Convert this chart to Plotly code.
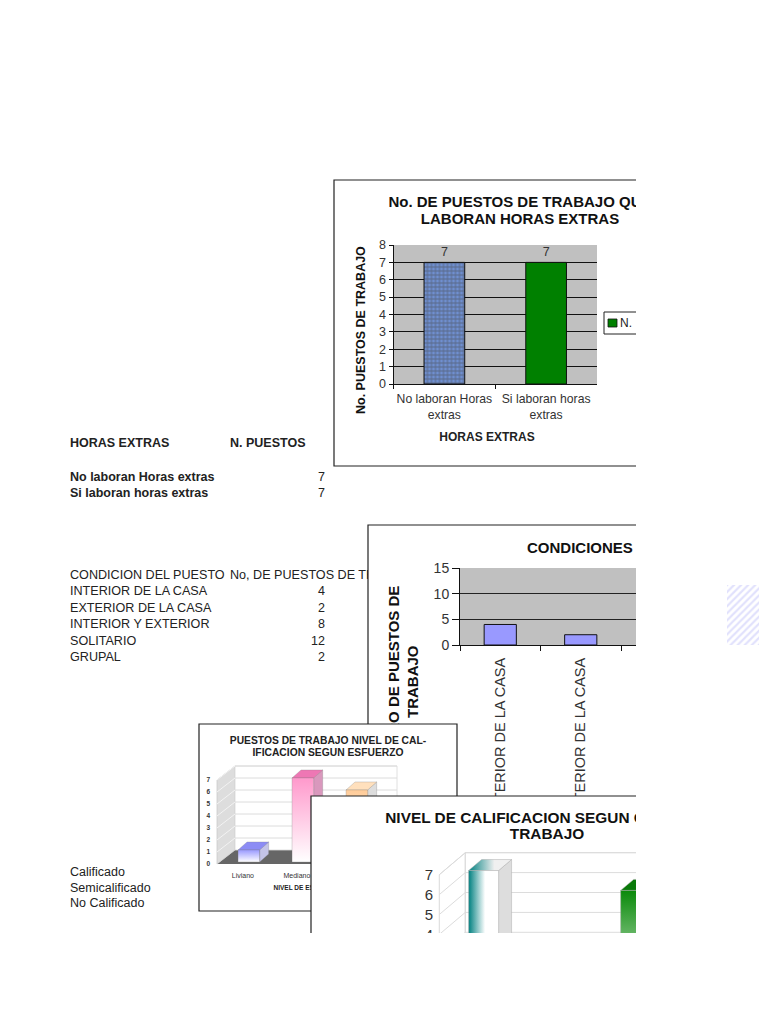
import plotly.graph_objects as go

# The browser page keeps an 8 px body margin, so the figure is 752x1008 and placed at (8, 8).
FW, FH, OFF = 752, 1008, 8
FONT = "Liberation Sans"
TEXT_DY = 1.3

# ---------- data ----------
extras_cats = ["No laboran Horas<br>extras", "Si laboran horas<br>extras"]
extras_vals = [7, 7]
extras_rows = ["No laboran Horas extras", "Si laboran horas extras"]

cond_cats = ["INTERIOR DE LA CASA", "EXTERIOR DE LA CASA", "INTERIOR Y EXTERIOR", "SOLITARIO", "GRUPAL"]
cond_vals = [4, 2, 8, 12, 2]

esfuerzo_cats = ["Liviano", "Mediano", "Pesado"]
esfuerzo_vals = [1, 7, 6]

calif_cats = ["Calificado", "Semicalificado", "No Calificado"]
calif_vals = [7, 6, 1]

fig = go.Figure()
layout = {}
slot = [0]


def px(a):
    return (a - OFF) / FW


def py(b):
    return 1 - (b - OFF) / FH


def new_axes(x0, y0, x1, y1, xr, yr, xopts=None, yopts=None):
    """Add one subplot occupying a page rectangle; later subplots paint over earlier."""
    slot[0] += 1
    n = slot[0]
    sx = "" if n == 1 else str(n)
    base = dict(visible=False, fixedrange=True, showgrid=False, zeroline=False)
    xa = dict(base, domain=[px(x0), px(x1)], range=xr, anchor="y" + sx)
    ya = dict(base, domain=[py(y1), py(y0)], range=yr, anchor="x" + sx)
    xa.update(xopts or {})
    ya.update(yopts or {})
    layout["xaxis" + sx] = xa
    layout["yaxis" + sx] = ya
    return "x" + sx, "y" + sx


def page_axes(x0, y0, x1, y1):
    return new_axes(x0, y0, x1, y1, [x0, x1], [y1, y0])


def label(ax, xs, ys, texts, size, color="#222222", pos="middle right", bold=False):
    fig.add_trace(go.Scatter(
        x=xs, y=[v + TEXT_DY for v in ys], text=texts, xaxis=ax[0], yaxis=ax[1], mode="text", textposition=pos,
        textfont=dict(family=FONT, size=size, color=color, weight="bold" if bold else "normal"),
        hoverinfo="skip", showlegend=False))


def panel(ax, x0, y0, x1, y1, color="#222222", width=1.2):
    layout.setdefault("shapes", []).append(dict(
        type="rect", xref=ax[0], yref=ax[1], x0=x0, y0=y0, x1=x1, y1=y1, layer="below",
        fillcolor="white", line=dict(color=color, width=width)))


def poly(ax, xs, ys, fill=None, grad=None, line="rgba(0,0,0,0)", lw=0.8):
    kw = dict(fillgradient=grad) if grad else dict(fillcolor=fill)
    fig.add_trace(go.Scatter(
        x=list(xs) + [xs[0]], y=list(ys) + [ys[0]], xaxis=ax[0], yaxis=ax[1], mode="lines",
        fill="toself", line=dict(color=line, width=lw), hoverinfo="skip", showlegend=False, **kw))


def lines(ax, xs, ys, color, lw=1):
    fig.add_trace(go.Scatter(
        x=xs, y=ys, xaxis=ax[0], yaxis=ax[1], mode="lines", line=dict(color=color, width=lw),
        hoverinfo="skip", showlegend=False))


def vgrad(bottom, top):
    return dict(type="vertical", colorscale=[[0, bottom], [1, top]])


def hgrad(*stops):
    return dict(type="horizontal", colorscale=[list(s) for s in stops])


def solid_or_grad(ax, xs, ys, style, line):
    if isinstance(style, dict):
        poly(ax, xs, ys, grad=style, line=line)
    else:
        poly(ax, xs, ys, fill=style, line=line)


def bar3d(ax, u, w, base, v, dx, dy, front, topf, side, line="rgba(120,120,120,0.35)"):
    solid_or_grad(ax, [u + w, u + w + dx, u + w + dx, u + w], [base, base + dy, base + v + dy, base + v], side, line)
    solid_or_grad(ax, [u, u + w, u + w + dx, u + dx], [base + v, base + v, base + v + dy, base + v + dy], topf, line)
    solid_or_grad(ax, [u, u + w, u + w, u], [base, base, base + v, base + v], front, line)


# ---------- worksheet text (below every chart) ----------
sheet = page_axes(OFF, OFF, OFF + FW, OFF + FH)
label(sheet, [70, 230], [443, 443], ["HORAS EXTRAS", "N. PUESTOS"], 12.5, bold=True)
label(sheet, [70, 70], [477, 493], extras_rows, 12.5, bold=True)
label(sheet, [325, 325], [477, 493], [str(v) for v in extras_vals], 12.5, pos="middle left")
label(sheet, [70, 230], [575, 575], ["CONDICION DEL PUESTO", "No, DE PUESTOS DE TRABAJO"], 12.6)
cond_y = [591, 608, 624, 641, 657]
label(sheet, [70] * 5, cond_y, cond_cats, 12.6)
label(sheet, [325] * 5, cond_y, [str(v) for v in cond_vals], 12.5, pos="middle left")
label(sheet, [70] * 3, [872, 888, 903], calif_cats, 12.5)

# ---------- chart 1 ----------
p1 = page_axes(332, 178, 636, 468)
panel(p1, 334, 180, 700, 466)
label(p1, [520, 520], [202, 219], ["No. DE PUESTOS DE TRABAJO QUE", "LABORAN HORAS EXTRAS"], 15, "#111111", "middle center", True)
label(p1, [487], [437], ["HORAS EXTRAS"], 12, "#222222", "middle center", True)
label(p1, [620], [323], ["N."], 12, "#222222")
layout["shapes"].append(dict(type="rect", xref=p1[0], yref=p1[1], x0=604, y0=312, x1=700, y1=334,
                             layer="below", fillcolor="white", line=dict(color="#222222", width=1)))
layout["shapes"].append(dict(type="rect", xref=p1[0], yref=p1[1], x0=608, y0=319, x1=617, y1=327,
                             layer="below", fillcolor="#008000", line=dict(color="#111111", width=0.8)))

c1 = new_axes(393.5, 245, 597, 384, [-0.5, 1.5], [0, 8],
              dict(visible=True, type="category", tickson="boundaries", ticks="outside", ticklen=4,
                   ticklabelstandoff=3, tickangle=0, tickcolor="#111111", showline=True, linecolor="#111111",
                   linewidth=1, tickfont=dict(family=FONT, size=12.2, color="#333333")),
              dict(visible=True, dtick=1, tick0=0, ticks="outside", ticklen=4, tickcolor="#111111",
                   showline=True, linecolor="#111111", linewidth=1, showgrid=True, gridcolor="#111111",
                   gridwidth=1, tickfont=dict(family=FONT, size=12.5, color="#333333")))
layout["shapes"].append(dict(type="rect", xref=c1[0], yref=c1[1], x0=-0.5, y0=0, x1=1.5, y1=8, layer="below",
                             fillcolor="#c0c0c0", line=dict(width=0)))
fig.add_trace(go.Bar(
    x=extras_cats, y=extras_vals, xaxis=c1[0], yaxis=c1[1], width=0.4, text=[str(v) for v in extras_vals],
    textposition="outside", cliponaxis=False, textfont=dict(family=FONT, size=12.5, color="#333333"),
    marker=dict(color=["#6f8fd0", "#008000"], line=dict(color="#111111", width=1),
                pattern=dict(shape=["+", ""], size=4, solidity=0.45, fgcolor="#20408f", bgcolor="#86a6e4")),
    hoverinfo="skip", showlegend=False))

# ---------- chart 2 ----------
p2 = new_axes(366, 523, 636, 800, [366, 636], [800, 523], None,
              dict(visible=True, anchor="free", position=px(421), tickvals=[684],
                   ticktext=["NUMERO DE PUESTOS DE<br>TRABAJO"], tickangle=-90, ticks="", showline=False,
                   tickfont=dict(family=FONT, size=15, color="#111111", weight="bold")))
panel(p2, 368, 525, 700, 900)
label(p2, [527], [548], ["CONDICIONES DEL PUESTO"], 15, "#111111", "middle right", True)
c2 = new_axes(460, 568, 636, 645, [-0.5, (636 - 460) / 80.5 - 0.5], [0, 15],
              dict(visible=True, type="category", categoryorder="array", categoryarray=cond_cats,
                   tickson="boundaries", ticks="outside", ticklen=5, ticklabelstandoff=6, tickcolor="#111111",
                   showline=True, linecolor="#111111", tickangle=-90,
                   tickfont=dict(family=FONT, size=14.5, color="#333333")),
              dict(visible=True, dtick=5, tick0=0, ticks="outside", ticklen=7, tickcolor="#111111",
                   showline=True, linecolor="#111111", showgrid=True, gridcolor="#222222", gridwidth=1,
                   tickfont=dict(family=FONT, size=14, color="#333333")))
layout["shapes"].append(dict(type="rect", xref=c2[0], yref=c2[1], x0=-0.5, y0=0, x1=4.5, y1=15, layer="below",
                             fillcolor="#c0c0c0", line=dict(width=0)))
fig.add_trace(go.Bar(x=cond_cats, y=cond_vals, xaxis=c2[0], yaxis=c2[1], width=0.4,
                     marker=dict(color="#9999ff", line=dict(color="#111111", width=1)),
                     hoverinfo="skip", showlegend=False))

# ---------- chart 3 (3-D look) ----------
p3 = page_axes(197, 722, 459, 913)
panel(p3, 199, 724, 457, 911)
label(p3, [328, 328], [740, 752], ["PUESTOS DE TRABAJO NIVEL DE CAL-", "IFICACION SEGUN ESFUERZO"], 10.3, "#222222", "middle center", True)
label(p3, [307], [887], ["NIVEL DE ESFUERZO"], 6.5, "#222222", "middle center", True)

UX3, UY3 = 54.0, 12.0
OX3, OY3 = 217.0, 864.0
c3 = new_axes(197, 722, 459, 913,
              [(197 - OX3) / UX3, (459 - OX3) / UX3], [(OY3 - 913) / UY3, (OY3 - 722) / UY3],
              dict(visible=True, anchor="free", position=py(870), tickvals=[0.48, 1.48, 2.48],
                   ticktext=esfuerzo_cats, ticks="", showline=False,
                   tickfont=dict(family=FONT, size=7, color="#333333")),
              dict(visible=True, anchor="free", position=px(210), tickvals=list(range(8)), ticks="",
                   showline=False, tickfont=dict(family=FONT, size=6.5, color="#333333", weight="bold")))
dx3, dy3 = 18 / UX3, 14 / UY3
n3 = len(esfuerzo_cats)
poly(c3, [0, dx3, dx3 + n3, n3], [0, dy3, dy3, 0], "#666666")
poly(c3, [0, dx3, dx3, 0], [0, dy3, 7 + dy3, 7], "#dddddd", line="#cccccc")
poly(c3, [dx3, dx3 + n3, dx3 + n3, dx3], [dy3, dy3, 7 + dy3, 7 + dy3], "white", line="#d8d8d8")
for v in range(1, 8):
    lines(c3, [0, dx3], [v, v + dy3], "#f3f3f3")
    lines(c3, [dx3, dx3 + n3], [v + dy3, v + dy3], "#dcdcdc")
styles3 = [
    (vgrad("#ffffff", "#9a9aff"), "#8c8cf5", "#c4c4e8"),
    (vgrad("#ffffff", "#ff99cc"), "#ee77b4", "#d998bd"),
    (vgrad("#ffffff", "#ffcc99"), "#ffe0bd", "#dddddd"),
]
for i, v in enumerate(esfuerzo_vals):
    f, t, s = styles3[i]
    bar3d(c3, i + 0.39, 0.4, 0.17, v, 9 / UX3, 8 / UY3, f, t, s)

# ---------- chart 4 (3-D look, runs off the page) ----------
p4 = page_axes(309, 794, 636, 1016)
panel(p4, 311, 796, 700, 1100)
label(p4, [551, 547], [818, 834], ["NIVEL DE CALIFICACION SEGUN CARGO DE", "TRABAJO"], 15.4, "#111111", "middle center", True)

UX4, UY4 = 152.0, 19.9
OX4, OY4 = 439.3, 1014.0
c4 = new_axes(309, 794, 636, 1016,
              [(309 - OX4) / UX4, (636 - OX4) / UX4], [(OY4 - 1016) / UY4, (OY4 - 794) / UY4], None,
              dict(visible=True, anchor="free", position=px(433), tickvals=[4, 5, 6, 7], ticks="",
                   showline=False, tickfont=dict(family=FONT, size=15, color="#333333")))
dx4, dy4 = 26 / UX4, 22 / UY4
n4 = len(calif_cats)
poly(c4, [0, dx4, dx4, 0], [0, dy4, 7 + dy4, 7], "white", line="#d0d0d0")
poly(c4, [dx4, dx4 + n4, dx4 + n4, dx4], [dy4, dy4, 7 + dy4, 7 + dy4], "white", line="#d0d0d0")
for v in range(1, 8):
    lines(c4, [0, dx4, dx4 + n4], [v, v + dy4, v + dy4], "#dcdcdc")
styles4 = [
    (hgrad((0, "#008080"), (0.55, "#ffffff"), (1, "#ffffff")),
     hgrad((0, "#008080"), (0.6, "#f0f0f0"), (1, "#f0f0f0")), "#dddddd"),
    (vgrad("#ffffff", "#0a8a0a"), "#0a7a0a", "#0a6a0a"),
    (vgrad("#ffffff", "#cc3333"), "#bb2222", "#aa2222"),
]
for i, v in enumerate(calif_vals):
    f, t, s = styles4[i]
    bar3d(c4, i + 0.193, 0.197, 0.21, v, 13 / UX4, 11 / UY4, f, t, s, line="rgba(170,170,170,0.6)")

# ---------- page-edge decoration ----------
hatch = new_axes(727, 585, 759, 645, [-0.5, 0.5], [0, 1])
fig.add_trace(go.Bar(x=[0], y=[1], width=1, xaxis=hatch[0], yaxis=hatch[1], hoverinfo="skip", showlegend=False,
                     marker=dict(color="white", line=dict(width=0),
                                 pattern=dict(shape="/", size=5, solidity=0.45, fgcolor="#c4c4fa", bgcolor="white"))))

# page ends at y = 933: everything below is blank
layout["shapes"].append(dict(type="rect", xref="paper", yref="paper", x0=0, x1=1,
                             y0=0, y1=py(933), layer="above", fillcolor="white", line=dict(width=0)))

annotations = [dict(xref="paper", yref="paper", x=px(361), y=py(330), xanchor="center", yanchor="middle",
                    text="<b>No. PUESTOS DE TRABAJO</b>", textangle=-90, showarrow=False,
                    font=dict(family=FONT, size=12.5, color="#111111"))]

fig.update_layout(
    width=FW, height=FH, autosize=False, margin=dict(l=0, r=0, t=0, b=0, pad=0, autoexpand=False),
    paper_bgcolor="white", plot_bgcolor="rgba(0,0,0,0)", showlegend=False, barmode="overlay",
    annotations=annotations, **layout)

fig.write_html("out.html")
